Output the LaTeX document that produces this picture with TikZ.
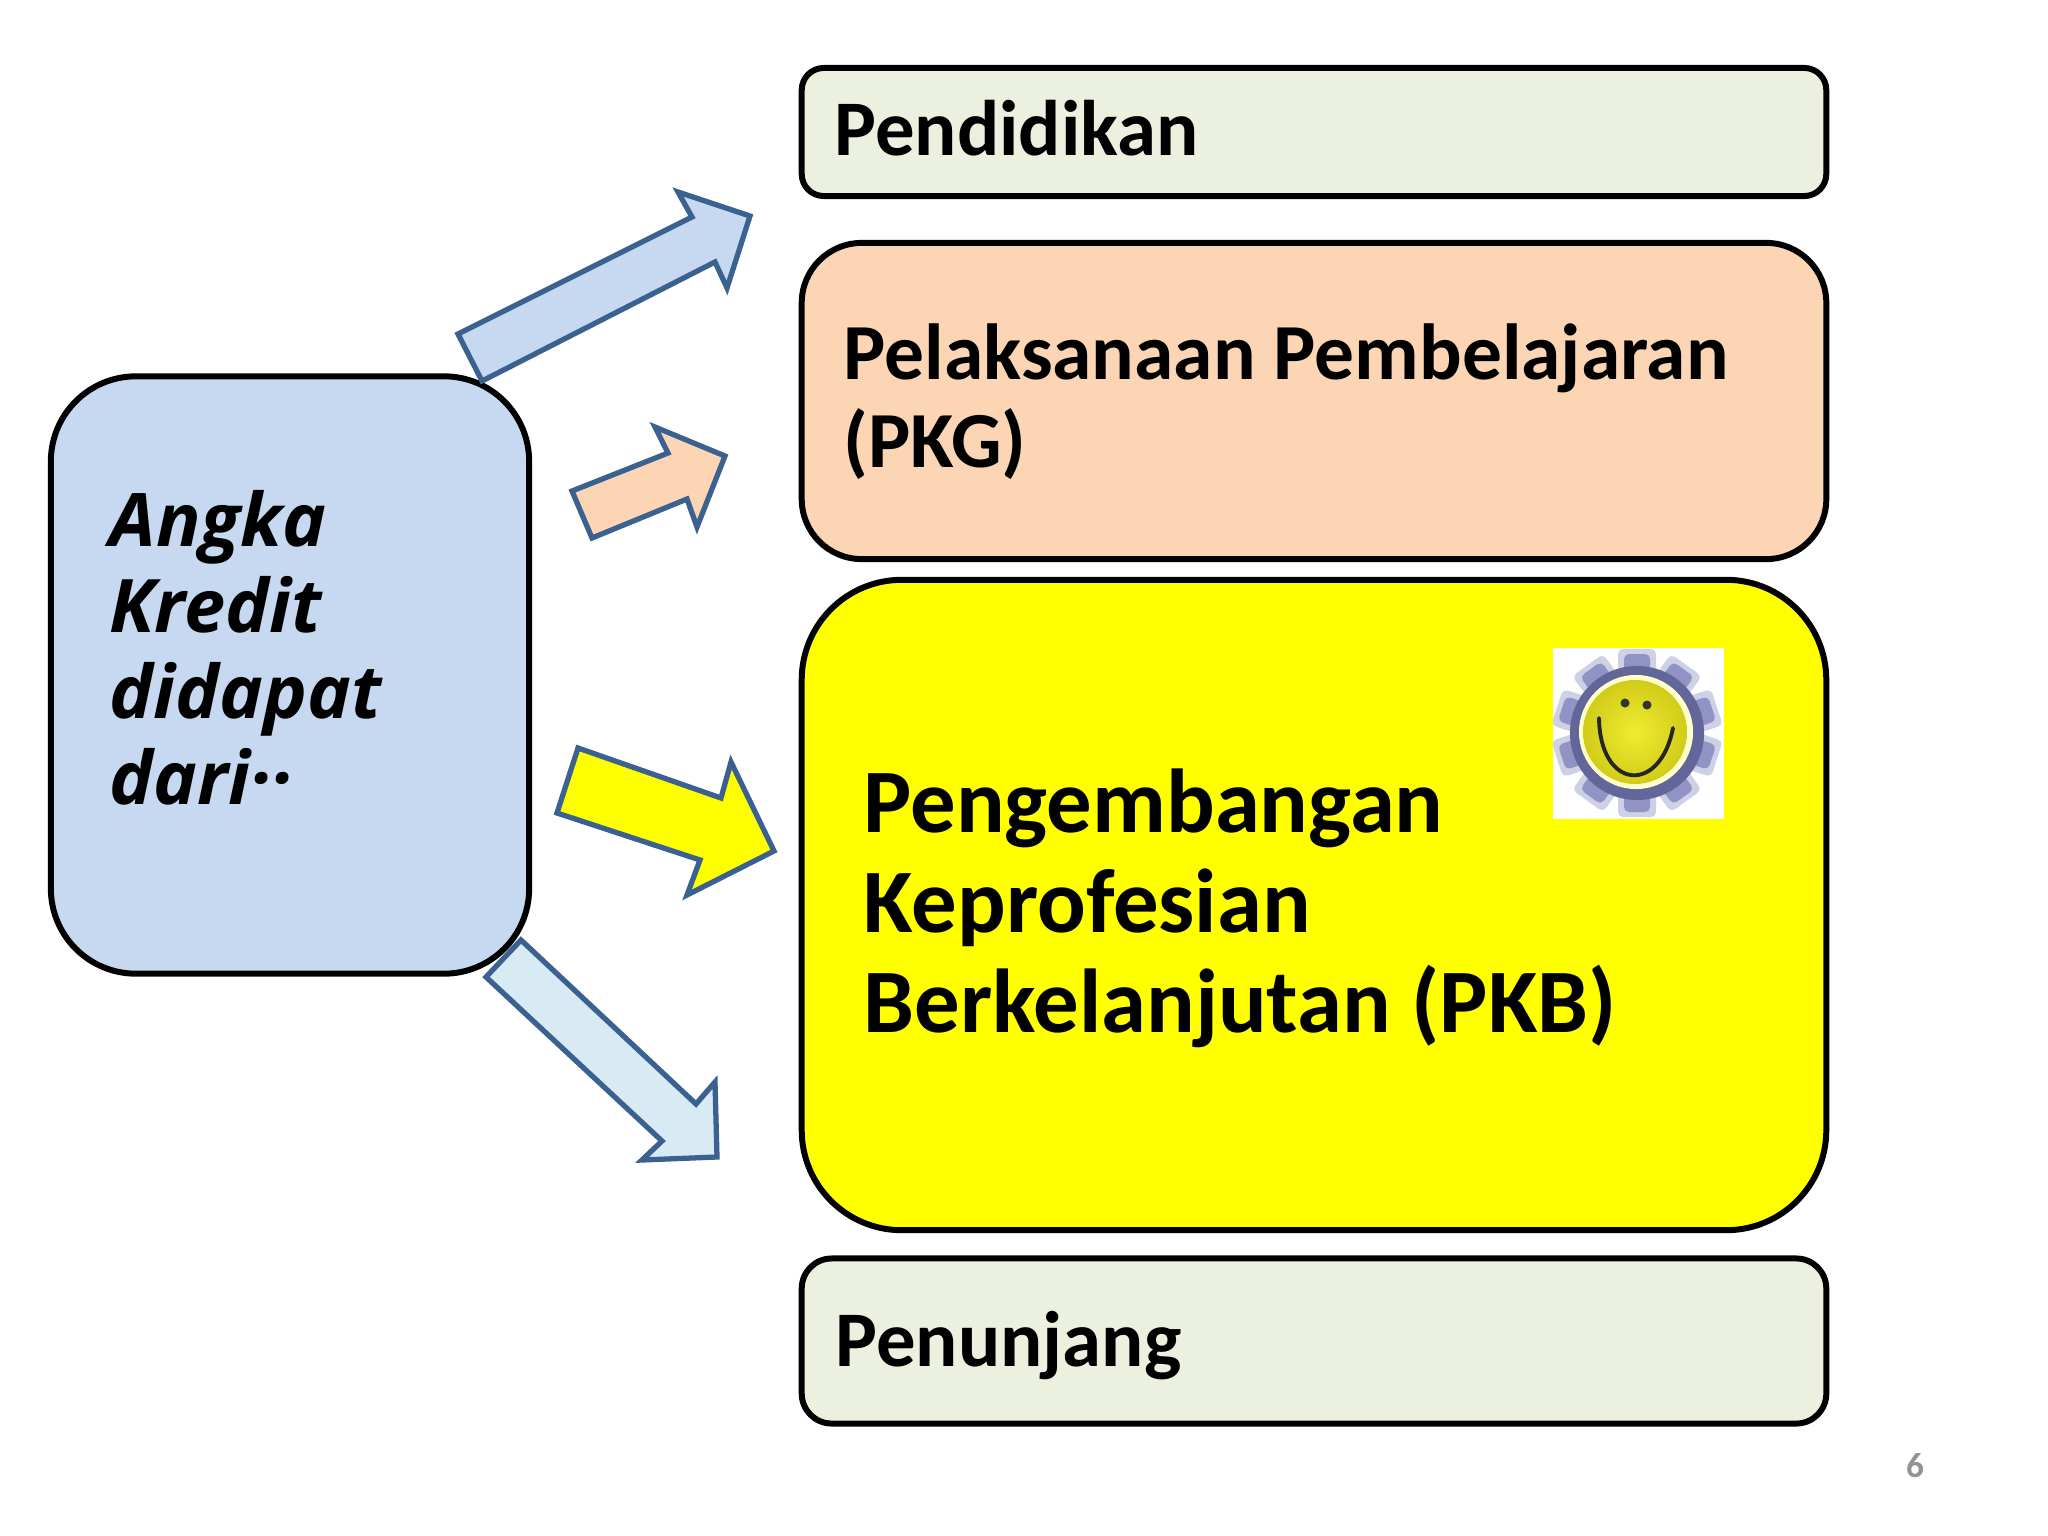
\documentclass[tikz,border=0pt]{standalone}
\usepackage{fontspec}
\setmainfont{Carlito}
\newfontfamily\handfont{Open Sans}
\definecolor{arrowline}{HTML}{3A6190}
\definecolor{paleblue}{HTML}{C6D9F1}
\definecolor{palepeach}{HTML}{FCD5B5}
\definecolor{palesky}{HTML}{D8EAF3}
\definecolor{palegreen}{HTML}{EBF1DE}
\definecolor{gearblue}{HTML}{7478B4}
\definecolor{brightyellow}{RGB}{255,255,0}
\definecolor{faceyellow}{RGB}{240,236,50}
\definecolor{faceedge}{RGB}{208,204,24}
\tikzset{
	box/.style={draw=black, line width=1.7pt},
	boxtext/.style={anchor=west, align=left, inner sep=0pt},
	blockarrow/.style={draw=arrowline, line width=1.5pt, miter limit=10},
}
\begin{document}
\begin{tikzpicture}[x=0.01cm,y=-0.01cm]
	\useasboundingbox[fill=white] (0,0) rectangle (2048,1536);
	% boxes
	\node[box, fill=paleblue, rounded corners=0.85cm, minimum width=4.78cm, minimum height=5.97cm] (angka) at (290,675) {};
	\node[box, fill=palegreen, rounded corners=0.22cm, minimum width=10.24cm, minimum height=1.28cm] (pendidikan) at (1314,132) {};
	\node[box, fill=palepeach, rounded corners=0.6cm, minimum width=10.24cm, minimum height=3.16cm] (pelaksanaan) at (1314,401) {};
	\node[box, fill=brightyellow, rounded corners=1cm, minimum width=10.24cm, minimum height=6.5cm] (pkb) at (1314,905) {};
	\node[box, fill=palegreen, rounded corners=0.3cm, minimum width=10.24cm, minimum height=1.65cm] (penunjang) at (1314,1341) {};
	% texts
	\node[boxtext, font=\handfont\bfseries\itshape\fontsize{21}{24.5}\selectfont] (angkatext) at (109,648) {Angka\\Kredit\\didapat\\dari··};
	\node[boxtext, font=\bfseries\fontsize{22.4}{26}\selectfont] (pendidikantext) at (834,128) {Pendidikan};
	\node[boxtext, font=\bfseries\fontsize{22.6}{25}\selectfont] (pelaksanaantext) at (843,402) {Pelaksanaan Pembelajaran\\(PKG)};
	\node[boxtext, font=\bfseries\fontsize{25.8}{28.4}\selectfont] (pkbtext) at (863,908) {Pengembangan\\Keprofesian\\Berkelanjutan (PKB)};
	\node[boxtext, font=\bfseries\fontsize{22.4}{26}\selectfont] (penunjangtext) at (835,1346) {Penunjang};
	\node[font=\bfseries\fontsize{10}{12}\selectfont, text=gray!85] (nomor) at (1915,1466) {6};
	% arrows
	\draw[blockarrow, fill=paleblue] (458,334) -- (692,217) -- (678,192) -- (750,216) -- (727,288) -- (715,262) -- (482,381) -- cycle;
	\draw[blockarrow, fill=palepeach] (572,491) -- (668,453) -- (655,427) -- (725,456) -- (697,527) -- (687,499) -- (592,538) -- cycle;
	\draw[blockarrow, fill=brightyellow] (578,748) -- (721,798) -- (731,762) -- (774,851) -- (687,895) -- (700,860) -- (557,813) -- cycle;
	\draw[blockarrow, fill=palesky] (521,940) -- (696,1104) -- (715,1082) -- (717,1157) -- (642,1160) -- (662,1141) -- (486,977) -- cycle;
	% gear
	\fill[white] (1553,648) rectangle (1724,819);
	\foreach \a in {90,126,...,414} {
		\fill[gearblue!35, rounded corners=0.05cm, rotate around={\a:(1637,733)}] (1685,714) rectangle (1721,752);
		\fill[gearblue!80, rounded corners=0.05cm, rotate around={\a:(1637,733)}] (1685,720) rectangle (1716,746);
	}
	\fill[gearblue!85!black] (1637,733) circle (0.67cm);
	\fill[brightyellow!20!white] (1636,732) circle (0.57cm);
	\shade[inner color=faceyellow, outer color=faceedge] (1635,732) circle (0.52cm);
	\fill[black!80] (1625,703) circle (0.045cm);
	\fill[black!80] (1647,705) circle (0.045cm);
	\draw[black!85, line width=1.1pt, line cap=round] (1599,718) .. controls (1600,790) and (1660,795) .. (1673,728);
\end{tikzpicture}
\end{document}
